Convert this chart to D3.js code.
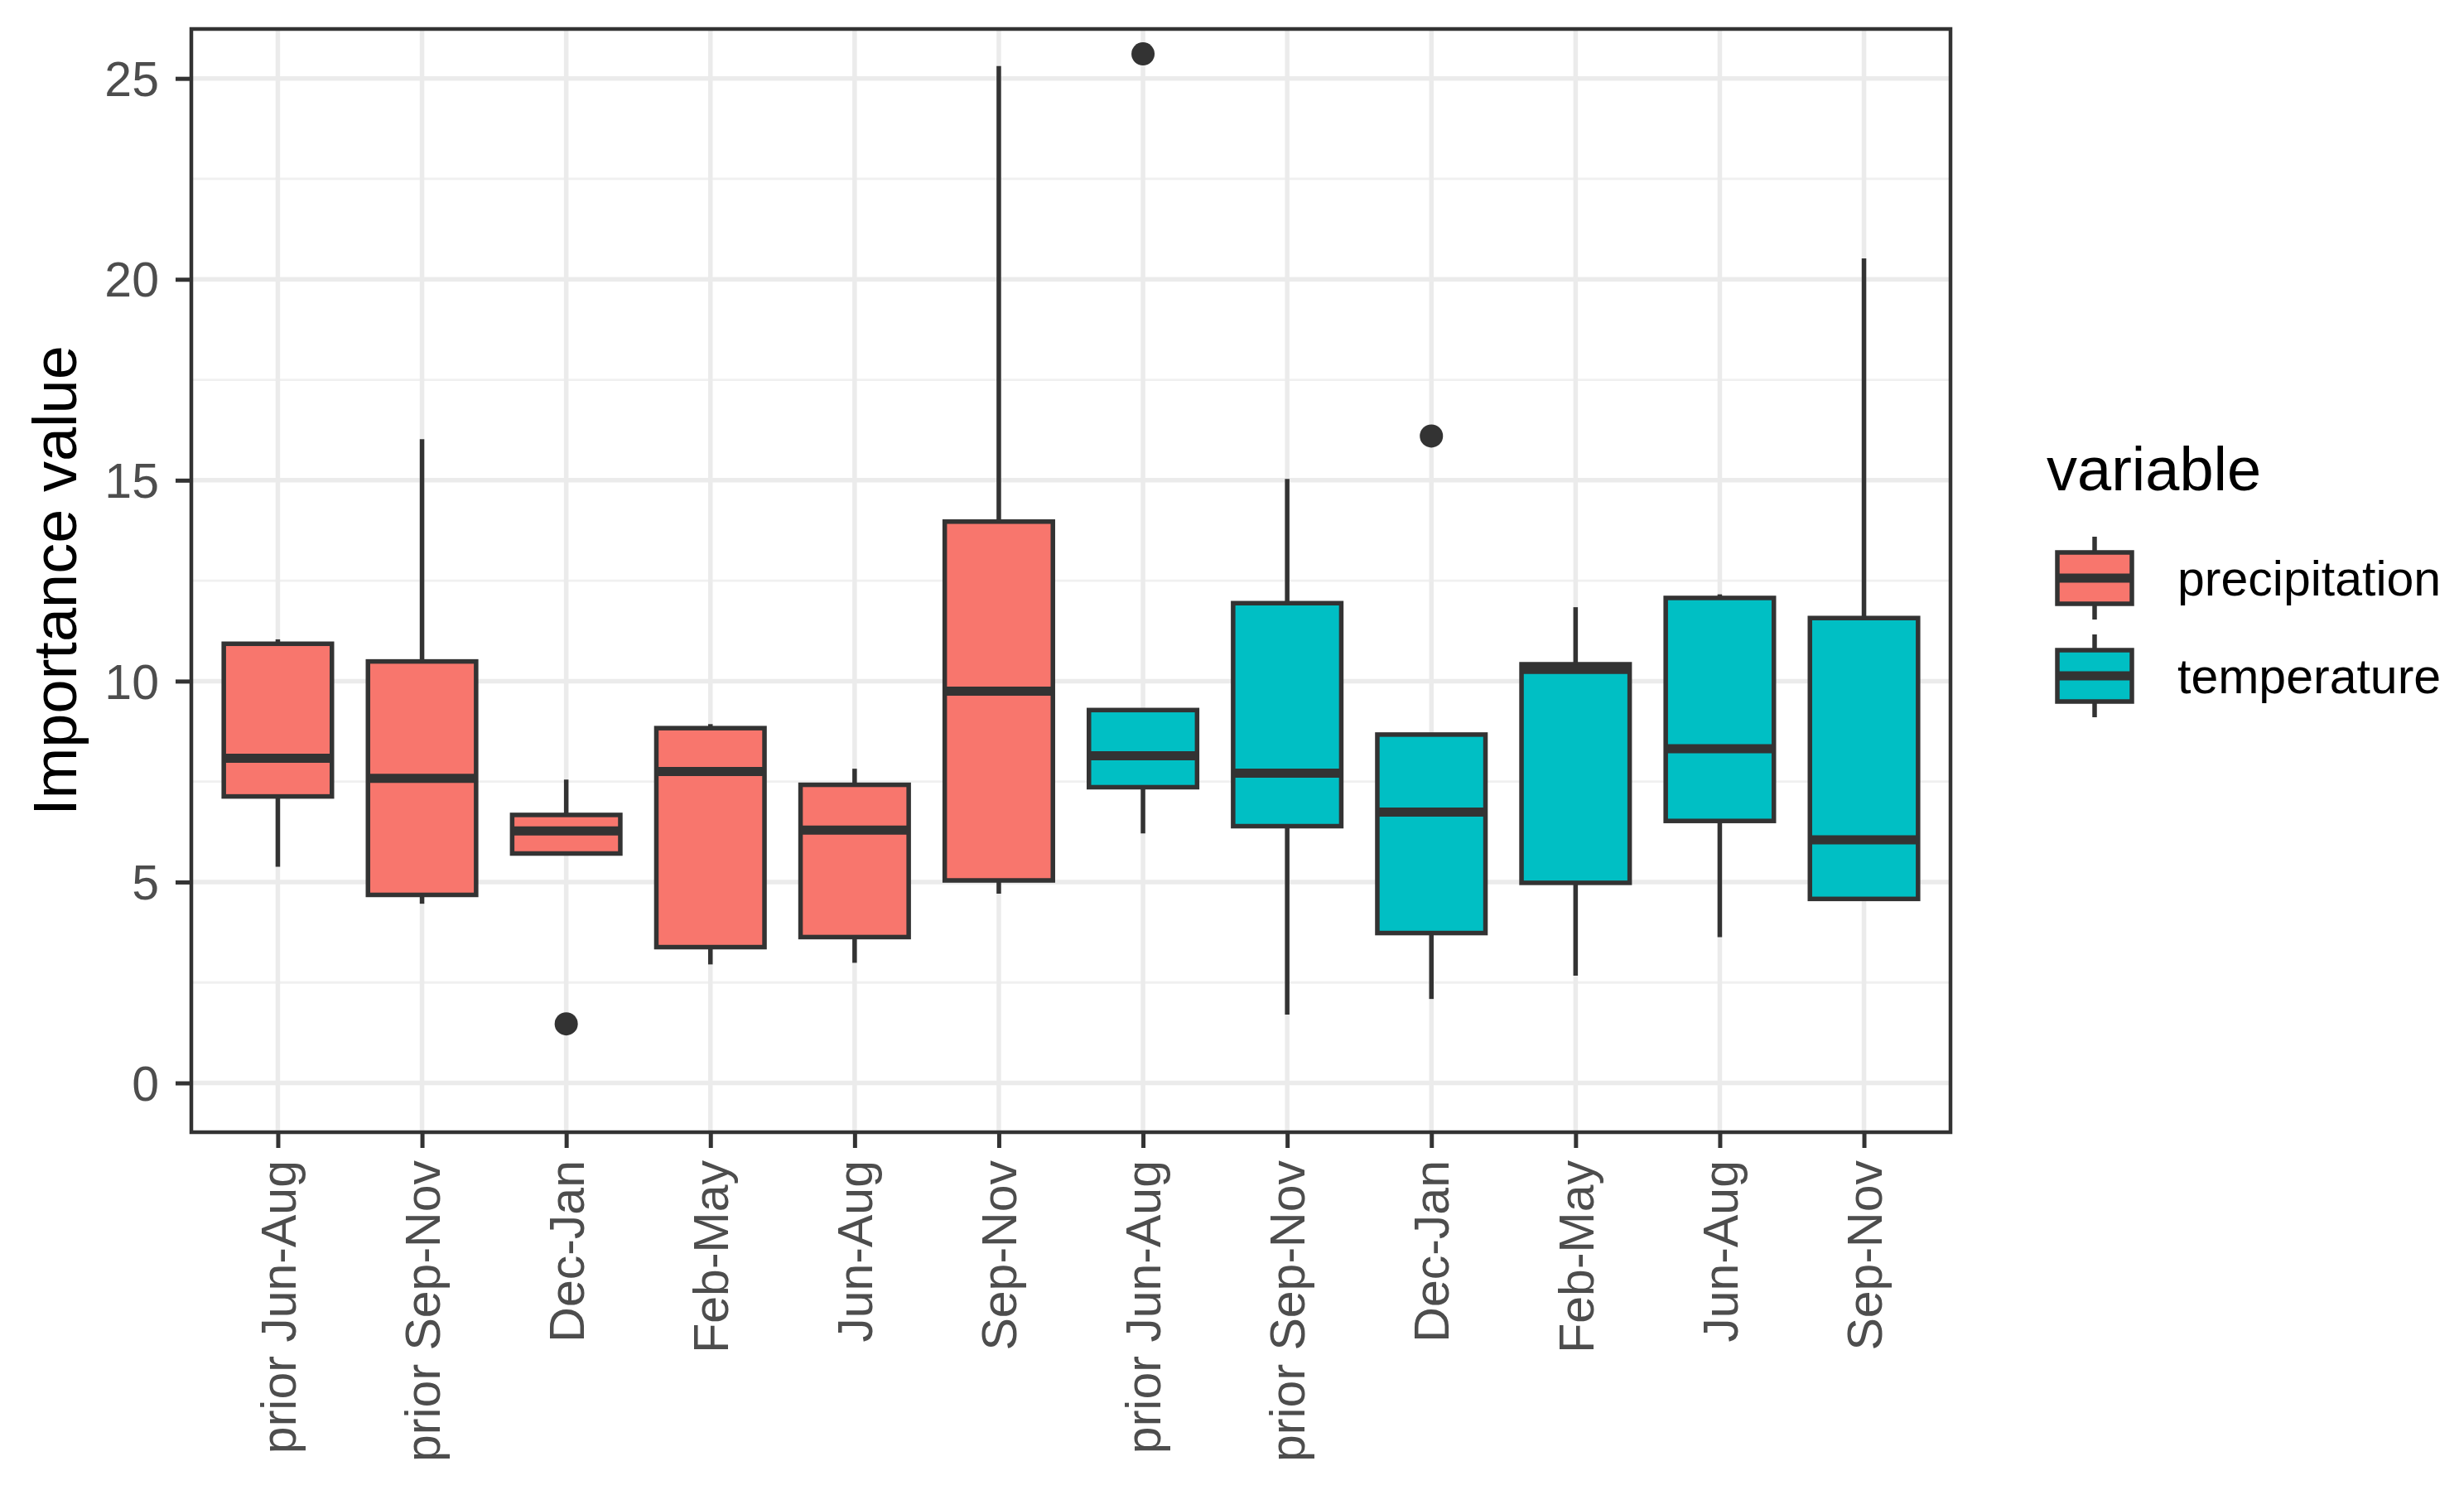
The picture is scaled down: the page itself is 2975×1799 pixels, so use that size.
<!DOCTYPE html>
<html>
<head>
<meta charset="utf-8">
<title>Importance value by season</title>
<script src="https://cdn.jsdelivr.net/npm/d3@7"></script>
<style>
    html, body { margin: 0; padding: 0; background: #ffffff; }
    svg { display: block; font-family: "Liberation Sans", Arial, sans-serif; }
</style>
</head>
<body>
<div id="chart"></div>
<script>
'use strict';

//#region DATA
const seasons = ['prior Jun-Aug', 'prior Sep-Nov', 'Dec-Jan', 'Feb-May', 'Jun-Aug', 'Sep-Nov',
    'prior Jun-Aug', 'prior Sep-Nov', 'Dec-Jan', 'Feb-May', 'Jun-Aug', 'Sep-Nov'];
const variables = ['precipitation', 'precipitation', 'precipitation', 'precipitation', 'precipitation', 'precipitation',
    'temperature', 'temperature', 'temperature', 'temperature', 'temperature', 'temperature'];
const lowerWhisker = [5.38, 4.46, 5.71, 2.95, 2.99, 4.71, 6.21, 1.70, 2.09, 2.67, 3.63, 4.58];
const q1 = [7.13, 4.68, 5.71, 3.38, 3.63, 5.04, 7.36, 6.39, 3.73, 4.98, 6.52, 4.58];
const medians = [8.08, 7.58, 6.27, 7.75, 6.29, 9.75, 8.14, 7.71, 6.74, 10.29, 8.32, 6.05];
const q3 = [10.93, 10.49, 6.67, 8.83, 7.42, 13.97, 9.28, 11.94, 8.67, 10.42, 12.07, 11.57];
const upperWhisker = [11.04, 16.02, 7.55, 8.93, 7.82, 25.31, 9.28, 15.03, 8.67, 11.84, 12.16, 20.52];
const outliers = [[], [], [1.47], [], [], [], [25.61], [], [16.10], [], [], []];
const legendLabels = ['precipitation', 'temperature'];
const legendColors = ['#F8766D', '#00BFC4'];
const yTicks = [0, 5, 10, 15, 20, 25];
const yMinorTicks = [2.5, 7.5, 12.5, 17.5, 22.5];
//#endregion

const W = 2975;
const H = 1799;
const panel = { left: 231, right: 2355, top: 35, bottom: 1367 };
const ink = '#333333';

const svg = d3.select('#chart')
    .append('svg')
    .attr('width', W)
    .attr('height', H);

svg.append('rect')
    .attr('width', W)
    .attr('height', H)
    .attr('fill', '#ffffff');

const idx = d3.range(seasons.length);

const x = d3.scalePoint()
    .domain(idx)
    .range([panel.left, panel.right])
    .padding(0.6);

const y = d3.scaleLinear()
    .domain([-1.226, 26.23])
    .range([panel.bottom, panel.top]);

const color = d3.scaleOrdinal()
    .domain(legendLabels)
    .range(legendColors);

const boxW = x.step() * 0.75;

//#region GRID
const grid = svg.append('g');

grid.selectAll('.minor')
    .data(yMinorTicks)
    .enter()
    .append('line')
    .attr('x1', panel.left)
    .attr('x2', panel.right)
    .attr('y1', d => y(d))
    .attr('y2', d => y(d))
    .attr('stroke', '#F0F0F0')
    .attr('stroke-width', 2.8);

grid.selectAll('.major-y')
    .data(yTicks)
    .enter()
    .append('line')
    .attr('x1', panel.left)
    .attr('x2', panel.right)
    .attr('y1', d => y(d))
    .attr('y2', d => y(d))
    .attr('stroke', '#EBEBEB')
    .attr('stroke-width', 5.5);

grid.selectAll('.major-x')
    .data(idx)
    .enter()
    .append('line')
    .attr('x1', d => x(d))
    .attr('x2', d => x(d))
    .attr('y1', panel.top)
    .attr('y2', panel.bottom)
    .attr('stroke', '#EBEBEB')
    .attr('stroke-width', 5.5);
//#endregion

//#region BOXES
const boxes = svg.append('g')
    .selectAll('g')
    .data(idx)
    .enter()
    .append('g');

// whiskers sit behind the box
boxes.append('line')
    .attr('x1', i => x(i))
    .attr('x2', i => x(i))
    .attr('y1', i => y(upperWhisker[i]))
    .attr('y2', i => y(q3[i]))
    .attr('stroke', ink)
    .attr('stroke-width', 5.5);

boxes.append('line')
    .attr('x1', i => x(i))
    .attr('x2', i => x(i))
    .attr('y1', i => y(q1[i]))
    .attr('y2', i => y(lowerWhisker[i]))
    .attr('stroke', ink)
    .attr('stroke-width', 5.5);

boxes.append('rect')
    .attr('x', i => x(i) - boxW / 2)
    .attr('width', boxW)
    .attr('y', i => y(q3[i]))
    .attr('height', i => y(q1[i]) - y(q3[i]))
    .attr('fill', i => color(variables[i]))
    .attr('stroke', ink)
    .attr('stroke-width', 5.5);

boxes.append('line')
    .attr('x1', i => x(i) - boxW / 2)
    .attr('x2', i => x(i) + boxW / 2)
    .attr('y1', i => y(medians[i]))
    .attr('y2', i => y(medians[i]))
    .attr('stroke', ink)
    .attr('stroke-width', 11);

boxes.selectAll('circle')
    .data(i => outliers[i].map(v => ({ i: i, v: v })))
    .enter()
    .append('circle')
    .attr('cx', d => x(d.i))
    .attr('cy', d => y(d.v))
    .attr('r', 14)
    .attr('fill', ink);
//#endregion

//#region PANEL BORDER + AXES
svg.append('rect')
    .attr('x', panel.left)
    .attr('y', panel.top)
    .attr('width', panel.right - panel.left)
    .attr('height', panel.bottom - panel.top)
    .attr('fill', 'none')
    .attr('stroke', ink)
    .attr('stroke-width', 4.5);

const yAxis = svg.append('g')
    .attr('transform', `translate(${panel.left},0)`)
    .call(d3.axisLeft(y).tickValues(yTicks).tickSize(19).tickPadding(20));

const xAxis = svg.append('g')
    .attr('transform', `translate(0,${panel.bottom})`)
    .call(d3.axisBottom(x).tickSize(19).tickPadding(15).tickFormat(i => seasons[i]));

[yAxis, xAxis].forEach(ax => {
    ax.select('.domain').remove();
    ax.selectAll('.tick line')
        .attr('stroke', ink)
        .attr('stroke-width', 5);
    ax.selectAll('.tick text')
        .attr('fill', '#4D4D4D')
        .style('font-size', '59px')
        .style('font-family', '"Liberation Sans", Arial, sans-serif');
});

yAxis.selectAll('.tick text')
    .attr('dy', '0.35em');

// rotate the season labels so they read upwards
xAxis.selectAll('.tick text')
    .attr('text-anchor', 'end')
    .attr('transform', 'rotate(-90)')
    .attr('x', -34)
    .attr('y', 0)
    .attr('dy', '0.35em');

svg.append('text')
    .attr('transform', `translate(92,${(panel.top + panel.bottom) / 2}) rotate(-90)`)
    .attr('text-anchor', 'middle')
    .style('font-size', '74px')
    .attr('fill', '#000000')
    .text('Importance value');
//#endregion

//#region LEGEND
const legend = svg.append('g');

legend.append('text')
    .attr('x', 2471)
    .attr('y', 592)
    .style('font-size', '74px')
    .attr('fill', '#000000')
    .text('variable');

const keyY = d3.scalePoint()
    .domain(legendLabels)
    .range([698, 816]);

const keys = legend.selectAll('.key')
    .data(legendLabels)
    .enter()
    .append('g')
    .attr('transform', d => `translate(2529,${keyY(d)})`);

keys.append('line')
    .attr('y1', -50)
    .attr('y2', 50)
    .attr('stroke', ink)
    .attr('stroke-width', 5.5);

keys.append('rect')
    .attr('x', -45)
    .attr('width', 90)
    .attr('y', -31)
    .attr('height', 62)
    .attr('fill', d => color(d))
    .attr('stroke', ink)
    .attr('stroke-width', 5.5);

keys.append('line')
    .attr('x1', -45)
    .attr('x2', 45)
    .attr('stroke', ink)
    .attr('stroke-width', 11);

keys.append('text')
    .attr('x', 100)
    .attr('dy', '0.35em')
    .style('font-size', '59px')
    .attr('fill', '#000000')
    .text(d => d);
//#endregion
</script>
</body>
</html>
